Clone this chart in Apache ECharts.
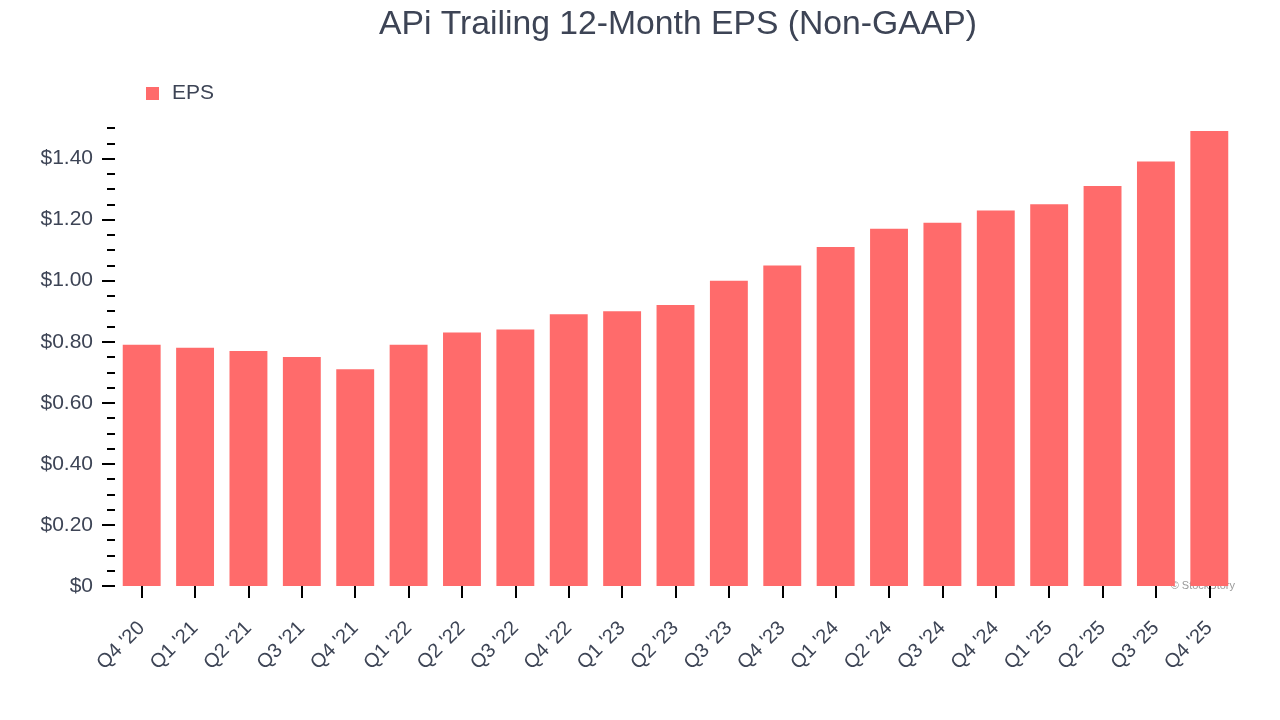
<!DOCTYPE html>
<html>
<head>
<meta charset="utf-8">
<script src="https://cdn.jsdelivr.net/npm/echarts@6/dist/echarts.min.js"></script>
<style>html,body{margin:0;padding:0;background:#fff;}#c{width:1280px;height:720px;}</style>
</head>
<body>
<div id="c"></div>
<script>
const categories = ["Q4 '20","Q1 '21","Q2 '21","Q3 '21","Q4 '21","Q1 '22","Q2 '22","Q3 '22","Q4 '22","Q1 '23","Q2 '23","Q3 '23","Q4 '23","Q1 '24","Q2 '24","Q3 '24","Q4 '24","Q1 '25","Q2 '25","Q3 '25","Q4 '25"];
const epsValues = [0.79,0.78,0.77,0.75,0.71,0.79,0.83,0.84,0.89,0.90,0.92,1.00,1.05,1.11,1.17,1.19,1.23,1.25,1.31,1.39,1.49];
const yTickLabels = [0,0.2,0.4,0.6,0.8,1.0,1.2,1.4];
const seriesName = "EPS";
const titleText = "APi Trailing 12-Month EPS (Non-GAAP)";

const chart = echarts.init(document.getElementById('c'));
const font = "'Liberation Sans', Arial, Helvetica, sans-serif";
const textColor = '#3d4455';
chart.setOption({
  animation: false,
  backgroundColor: '#ffffff',
  title: {
    text: titleText, left: 374, top: 3,
    textStyle: {fontFamily: font, fontSize: 33.7, fontWeight: 'normal', color: textColor}
  },
  legend: {
    data: [seriesName], left: 141, top: 78, icon: 'rect', itemWidth: 13, itemHeight: 13, itemGap: 8,
    textStyle: {fontFamily: font, fontSize: 21, color: textColor, padding: [0, 0, 0, 8]}
  },
  graphic: [{
    type: 'text', right: 45, top: 580,
    style: {text: '© StockStory', fill: '#9a9a9a', font: "11px 'Liberation Sans', Arial, sans-serif"}
  }],
  grid: {left: 115, right: 44, top: 128, bottom: 134},
  xAxis: {
    type: 'category', data: categories, offset: 4,
    axisLine: {show: false},
    axisTick: {show: true, alignWithLabel: true, length: 12, lineStyle: {color: '#000', width: 2}},
    axisLabel: {rotate: 45, fontFamily: font, fontSize: 20, color: textColor, margin: 35, interval: 0}
  },
  yAxis: [{
    type: 'value', min: 0, max: 1.5, interval: 0.05,
    splitLine: {show: false},
    axisLine: {show: false},
    axisTick: {show: true, length: 8, lineStyle: {color: '#000', width: 2}},
    axisLabel: {show: false}
  }, {
    type: 'value', min: 0, max: 1.5, position: 'left',
    splitLine: {show: false},
    axisLine: {show: false},
    axisTick: {show: true, customValues: yTickLabels, length: 13, lineStyle: {color: '#000', width: 2}},
    axisLabel: {
      customValues: yTickLabels,
      fontFamily: font, fontSize: 21, color: textColor, margin: 22,
      formatter: v => v === 0 ? '$0' : '$' + v.toFixed(2)
    }
  }],
  series: [{
    name: seriesName, type: 'bar', data: epsValues, barCategoryGap: '29%',
    itemStyle: {color: '#ff6b6b'}
  }]
});
</script>
</body>
</html>
